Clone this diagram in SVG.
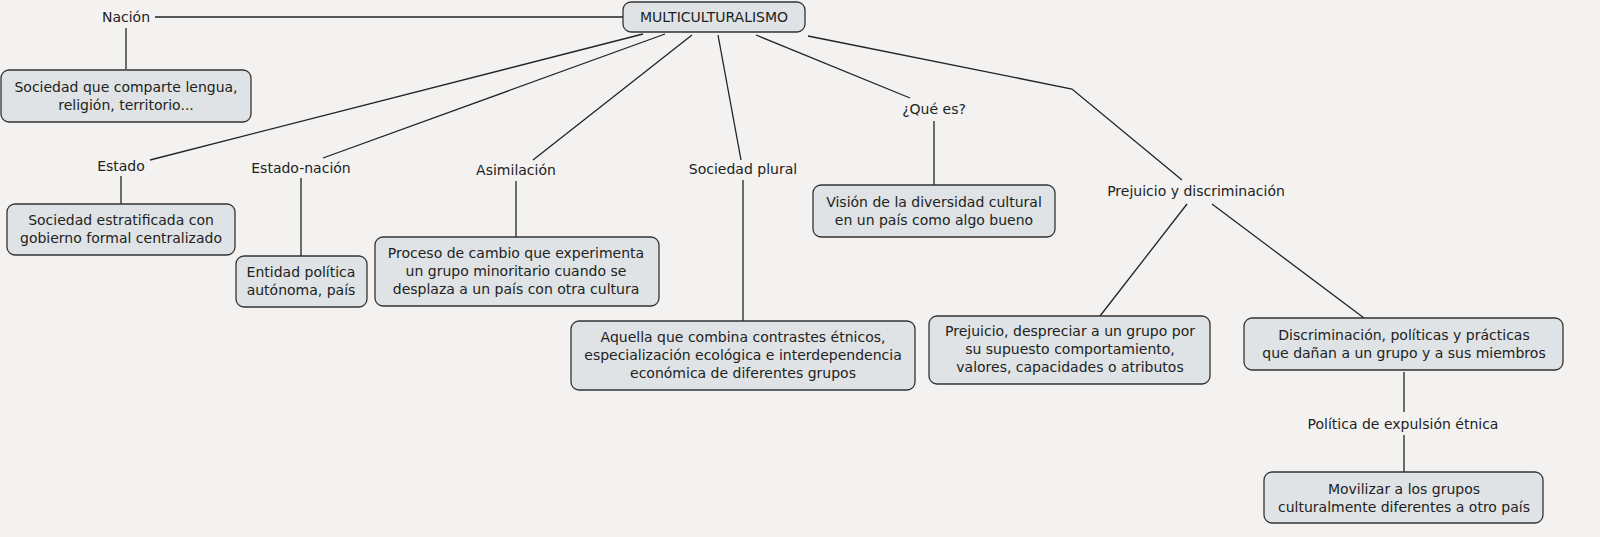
<svg xmlns="http://www.w3.org/2000/svg" width="1600" height="537" viewBox="0 0 1600 537">
<style>
.b{fill:#dfe3e5;stroke:#333;stroke-width:1.3}
text{font-family:"DejaVu Sans",Verdana,sans-serif;font-size:14px;fill:#222;text-anchor:middle}
.c line,.c polyline{stroke:#222;stroke-width:1.3;fill:none}
</style>
<rect width="1600" height="537" fill="#f3f2f1"/>
<g class="c" id="connectors">
<line x1="155" y1="17" x2="623" y2="17"/><line x1="126" y1="28" x2="126" y2="69"/>
<line x1="150" y1="160" x2="643" y2="34"/><line x1="121" y1="176" x2="121" y2="204"/>
<line x1="323" y1="158" x2="665" y2="34"/><line x1="301" y1="178" x2="301" y2="256"/>
<line x1="533" y1="160" x2="692" y2="35"/><line x1="516" y1="181" x2="516" y2="237"/>
<line x1="741" y1="160" x2="718" y2="35"/><line x1="743" y1="180" x2="743" y2="321"/>
<line x1="756" y1="35" x2="910" y2="98"/><line x1="934" y1="121" x2="934" y2="185"/>
<polyline points="808,36 1072,89 1182,180"/>
<line x1="1187" y1="204" x2="1100" y2="316"/><line x1="1212" y1="204" x2="1364" y2="318"/>
<line x1="1404" y1="372" x2="1404" y2="412"/><line x1="1404" y1="435" x2="1404" y2="472"/>
</g>
<g id="n0"><rect class="b" x="623" y="2" width="182" height="30" rx="8"/><text x="714" y="22">MULTICULTURALISMO</text></g>
<g id="n1"><text x="126" y="22">Nación</text></g>
<g id="n2"><rect class="b" x="1" y="70" width="250" height="52" rx="8"/><text x="126" y="92">Sociedad que comparte lengua,</text><text x="126" y="110">religión, territorio...</text></g>
<g id="n3"><text x="121" y="171">Estado</text></g>
<g id="n4"><rect class="b" x="7" y="204" width="228" height="51" rx="8"/><text x="121" y="225">Sociedad estratificada con</text><text x="121" y="243">gobierno formal centralizado</text></g>
<g id="n5"><text x="301" y="173">Estado-nación</text></g>
<g id="n6"><rect class="b" x="236" y="256" width="131" height="51" rx="8"/><text x="301" y="277">Entidad política</text><text x="301" y="295">autónoma, país</text></g>
<g id="n7"><text x="516" y="175">Asimilación</text></g>
<g id="n8"><rect class="b" x="375" y="237" width="284" height="69" rx="8"/><text x="516" y="258">Proceso de cambio que experimenta</text><text x="516" y="276">un grupo minoritario cuando se</text><text x="516" y="294">desplaza a un país con otra cultura</text></g>
<g id="n9"><text x="743" y="174">Sociedad plural</text></g>
<g id="n10"><rect class="b" x="571" y="321" width="344" height="69" rx="8"/><text x="743" y="342">Aquella que combina contrastes étnicos,</text><text x="743" y="360">especialización ecológica e interdependencia</text><text x="743" y="378">económica de diferentes grupos</text></g>
<g id="n11"><text x="934" y="114">¿Qué es?</text></g>
<g id="n12"><rect class="b" x="813" y="185" width="242" height="52" rx="8"/><text x="934" y="207">Visión de la diversidad cultural</text><text x="934" y="225">en un país como algo bueno</text></g>
<g id="n13"><text x="1196" y="196">Prejuicio y discriminación</text></g>
<g id="n14"><rect class="b" x="929" y="316" width="281" height="68" rx="8"/><text x="1070" y="336">Prejuicio, despreciar a un grupo por</text><text x="1070" y="354">su supuesto comportamiento,</text><text x="1070" y="372">valores, capacidades o atributos</text></g>
<g id="n15"><rect class="b" x="1244" y="318" width="319" height="52" rx="8"/><text x="1404" y="340">Discriminación, políticas y prácticas</text><text x="1404" y="358">que  dañan a un grupo y a sus miembros</text></g>
<g id="n16"><text x="1403" y="429">Política de expulsión étnica</text></g>
<g id="n17"><rect class="b" x="1264" y="472" width="279" height="51" rx="8"/><text x="1404" y="494">Movilizar a los grupos</text><text x="1404" y="512">culturalmente diferentes a otro país</text></g>
</svg>
